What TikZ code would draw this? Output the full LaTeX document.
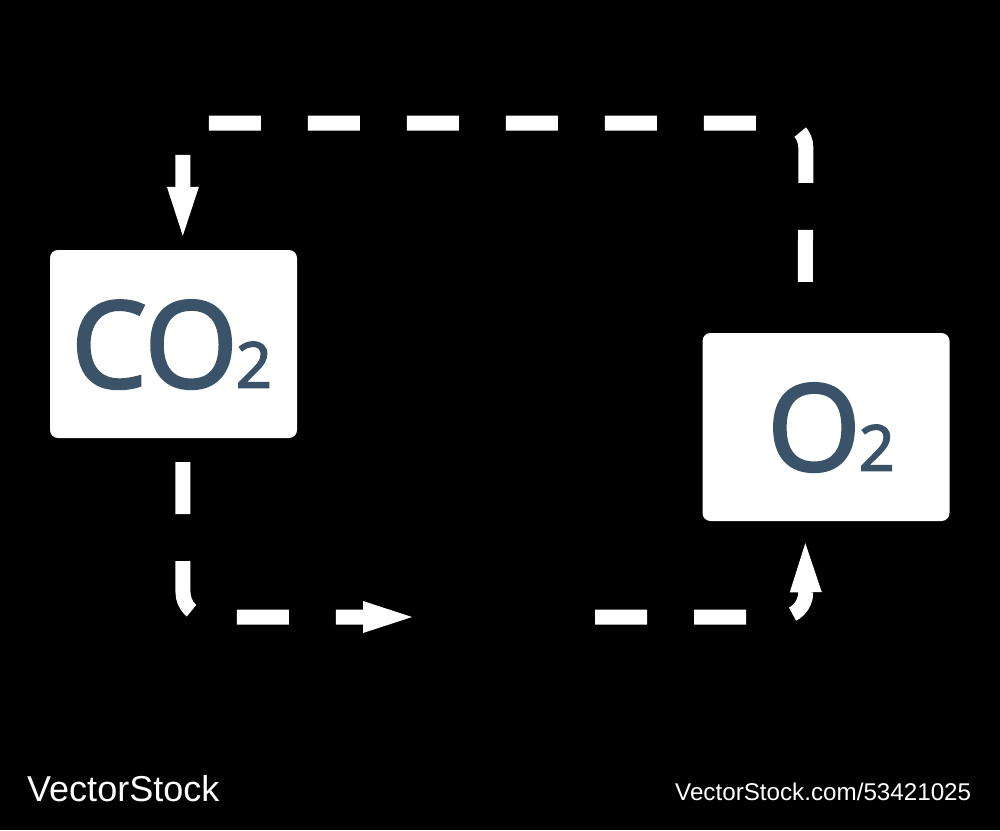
\documentclass[tikz,border=0pt]{standalone}
\usepackage{fontspec}
\setmainfont{Open Sans}
\newfontfamily\gasfont[FakeBold=2.5]{Open Sans}
\newfontfamily\wmfont{Liberation Sans}
\usetikzlibrary{arrows.meta,calc}
\definecolor{txtblue}{RGB}{58,83,104}
\tikzset{
  gasbox/.style={draw=none,fill=white,rounded corners=8pt,minimum width=247pt,minimum height=188pt,inner sep=0pt,
    text=txtblue,text height=87pt,text depth=0pt,font=\gasfont\fontsize{120}{120}\selectfont},
  flow/.style={draw=white,line width=15pt,line cap=butt,rounded corners=25pt,dash pattern=on 52pt off 47pt},
  tip/.style={-{Triangle[width=32pt,length=49pt,line width=0pt]}},
  wm/.style={text=white,inner sep=0pt,anchor=base west}
}
\newcommand{\subtwo}{{\fontsize{63}{63}\selectfont\kern-2pt 2}}
\begin{document}
\begin{tikzpicture}[x=1pt,y=-1pt]
\fill[black] (0,0) rectangle (1000,830);
\useasboundingbox (0,0) rectangle (1000,830);
\node[gasbox] (co2) at (173.5,344) {CO\subtwo\kern4pt};
\node[gasbox] (o2) at (826,427) {\kern10pt O\subtwo};
\coordinate (topstart) at ($(o2.north west)+(103,-51)$);
\coordinate (co2in) at ($(co2.north west)+(133,-14)$);
\coordinate (co2out) at ($(co2.south west)+(133,24)$);
\coordinate (midtip) at (412,617);
\coordinate (midstart) at (595,617);
\coordinate (o2in) at ($(o2.south west)+(103,22)$);
\draw[flow,tip] (topstart) -- (806,123) -- (183,123) -- (co2in);
\draw[flow,tip] (co2out) -- (183,617) -- (midtip);
\draw[flow,tip] (midstart) -- (806,617) -- (o2in);
\node[wm,font=\wmfont\fontsize{36}{36}\selectfont] (wm1) at (27,801.5) {VectorStock};
\node[wm,font=\wmfont\fontsize{24.2}{24.2}\selectfont] (wm2) at (675,800.5) {VectorStock.com/53421025};
\end{tikzpicture}
\end{document}
